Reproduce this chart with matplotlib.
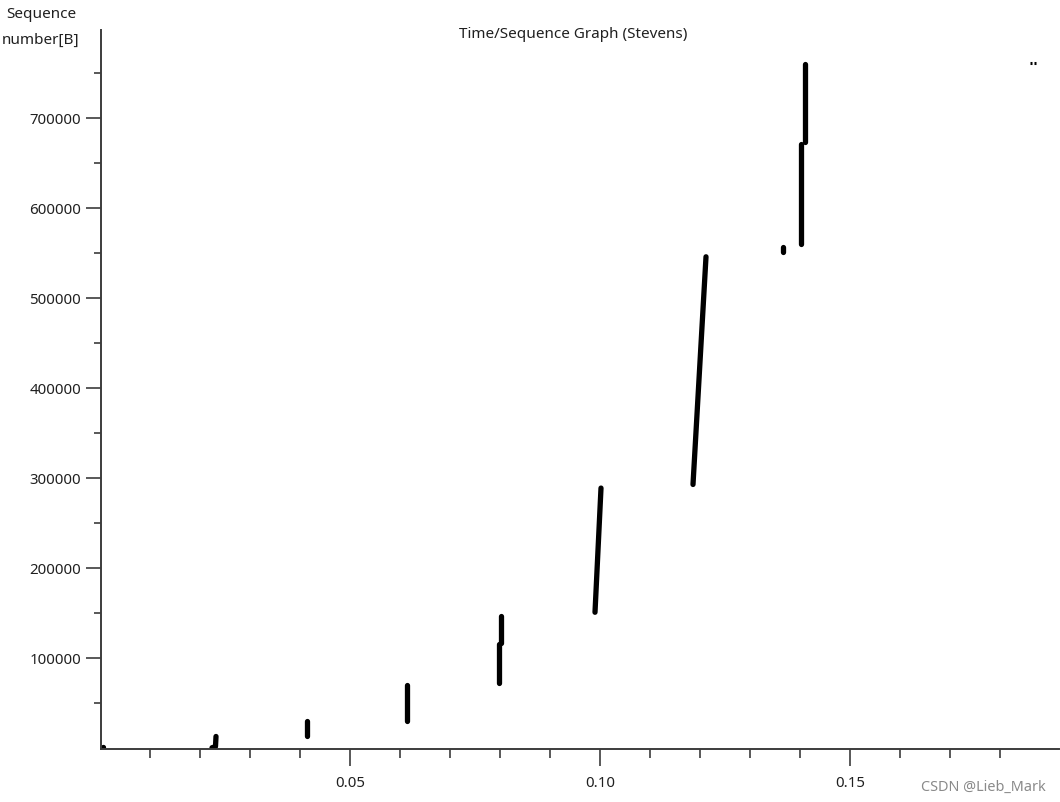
import matplotlib
matplotlib.use("Agg")
import matplotlib.pyplot as plt
from matplotlib.ticker import FixedLocator

plt.rcParams['font.family'] = ['Noto Sans', 'DejaVu Sans']

# segments of the Stevens graph: start/end time (s) and sequence number (bytes)
seg_t0 = [0.0006, 0.0224, 0.0231, 0.0414, 0.0614, 0.0798, 0.0802, 0.0990, 0.1186, 0.1366, 0.1402, 0.1410]
seg_t1 = [0.0007, 0.0230, 0.0232, 0.0414, 0.0614, 0.0798, 0.0802, 0.1002, 0.1212, 0.1366, 0.1402, 0.1410]
seg_s0 = [0, 500, 2000, 13000, 30000, 72000, 117000, 151000, 293000, 551000, 560000, 674000]
seg_s1 = [800, 1500, 13000, 30000, 70000, 116000, 147000, 289000, 546000, 557000, 671000, 760000]

# two small marks in the top right corner
dot_t = [0.1862, 0.1870]
dot_s = [761000, 761000]

x_major = [0.05, 0.10, 0.15]
x_labels = ["0.05", "0.10", "0.15"]
x_minor = [0.01, 0.02, 0.03, 0.04, 0.06, 0.07, 0.08, 0.09, 0.11, 0.12, 0.13, 0.14, 0.16, 0.17, 0.18]
y_major = [100000, 200000, 300000, 400000, 500000, 600000, 700000]
y_minor = [50000, 150000, 250000, 350000, 450000, 550000, 650000, 750000]

fig = plt.figure(figsize=(10.6, 8.02), dpi=100)
ax = fig.add_axes([101 / 1060, 0.066, 958 / 1060, 0.8966])

for t0, t1, s0, s1 in zip(seg_t0, seg_t1, seg_s0, seg_s1):
    ax.plot([t0, t1], [s0, s1], color="black", lw=3.8, solid_capstyle="round")
for t, s in zip(dot_t, dot_s):
    ax.plot([t - 0.0002, t + 0.0002], [s, s], color="black", lw=2.2, solid_capstyle="butt")

ax.set_xlim(0.0002, 0.1918)
ax.set_ylim(-1000, 798000)

ax.set_xticks(x_major)
ax.set_xticklabels(x_labels)
ax.xaxis.set_minor_locator(FixedLocator(x_minor))
ax.set_yticks(y_major)
ax.yaxis.set_minor_locator(FixedLocator(y_minor))

spine_col = "#3c3c3c"
for side in ("top", "right"):
    ax.spines[side].set_visible(False)
for side in ("left", "bottom"):
    ax.spines[side].set_color(spine_col)
    ax.spines[side].set_linewidth(1.4)

ax.tick_params(axis="x", which="major", length=12, width=1.2, color=spine_col,
               labelsize=10.8, pad=7.5, labelcolor="#202020")
ax.tick_params(axis="x", which="minor", length=6.5, width=1.2, color=spine_col)
ax.tick_params(axis="y", which="major", length=10.8, width=1.2, color=spine_col,
               labelsize=10.8, pad=3.6, labelcolor="#202020")
ax.tick_params(axis="y", which="minor", length=5, width=1.2, color=spine_col)

fig.text(573 / 1060, 1 - 35 / 802, "Time/Sequence Graph (Stevens)", ha="center", va="center",
         fontsize=11, color="#202020")
fig.text(41 / 1060, 1 - 14 / 802, "Sequence", ha="center", va="center", fontsize=11, color="#202020")
fig.text(41 / 1060, 1 - 40 / 802, "number[B]", ha="center", va="center", fontsize=11, color="#202020")
fig.text(983 / 1060, 1 - 787 / 802, "CSDN @Lieb_Mark", ha="center", va="center",
         fontsize=10.4, color="#8a8a8a")

fig.savefig("out.png", dpi=100, facecolor="white")
